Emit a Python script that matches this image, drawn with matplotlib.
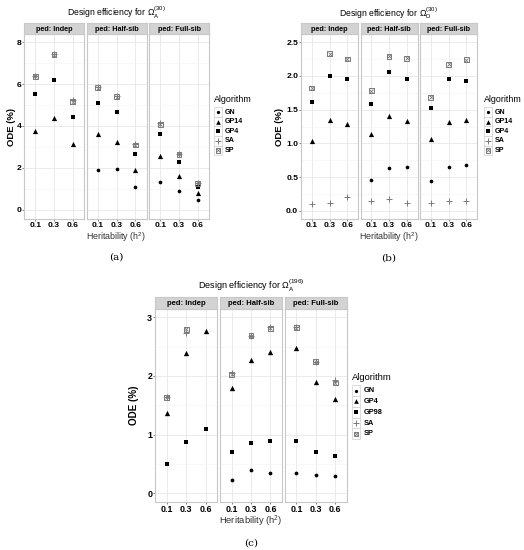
"""Design efficiency (ODE) per pedigree, heritability and algorithm."""
import numpy as np
import matplotlib
matplotlib.use("Agg")
import matplotlib.pyplot as plt
from matplotlib.patches import Rectangle

plt.rcParams["font.family"] = ["Liberation Sans", "DejaVu Sans"]
plt.rcParams["mathtext.fontset"] = "custom"
plt.rcParams["mathtext.rm"] = "Liberation Sans"
plt.rcParams["mathtext.it"] = "Liberation Sans:italic"

nan = np.nan

heritability = ["0.1", "0.3", "0.6"]
peds = ["Indep", "Half-sib", "Full-sib"]

# panel (a): Omega_A^(30); rows = ped, cols = heritability
a_GN = [[nan, nan, nan], [1.88, 1.94, 1.07], [1.34, 0.91, 0.46]]
a_GP14 = [[3.77, 4.38, 3.15], [3.64, 3.22, 1.89], [2.56, 1.61, 0.77]]
a_GP4 = [[5.52, 6.21, 4.43], [5.09, 4.67, 2.68], [3.61, 2.27, 1.06]]
a_SA = [[6.40, 7.42, 5.24], [5.88, 5.43, 3.14], [4.15, 2.66, 1.28]]
a_SP = [[6.37, 7.41, 5.16], [5.84, 5.41, 3.09], [4.09, 2.65, 1.26]]

# panel (b): Omega_D^(30)
b_GN = [[nan, nan, nan], [0.46, 0.63, 0.65], [0.45, 0.65, 0.68]]
b_GP14 = [[1.04, 1.35, 1.28], [1.14, 1.40, 1.33], [1.06, 1.32, 1.34]]
b_GP4 = [[1.61, 2.00, 1.95], [1.58, 2.06, 1.95], [1.52, 1.95, 1.92]]
b_SA = [[0.10, 0.12, 0.20], [0.15, 0.17, 0.11], [0.11, 0.14, 0.15]]
b_SP = [[1.82, 2.33, 2.25], [1.78, 2.29, 2.26], [1.68, 2.17, 2.24]]

# panel (c): Omega_A^(196)
c_GN = [[nan, nan, nan], [0.22, 0.39, 0.35], [0.34, 0.31, 0.29]]
c_GP4 = [[1.36, 2.40, 2.76], [1.79, 2.28, 2.41], [2.48, 1.89, 1.60]]
c_GP98 = [[0.49, 0.87, 1.09], [0.70, 0.86, 0.89], [0.89, 0.71, 0.63]]
c_SA = [[1.64, 2.74, nan], [2.05, 2.69, 2.83], [2.83, 2.23, 1.93]]
c_SP = [[1.64, 2.80, nan], [2.03, 2.69, 2.81], [2.82, 2.24, 1.88]]

W, H = 524, 550
GRAY = "#7a7a7a"
SHAPES = ["circle", "triangle", "square", "plus", "sqx"]


def fx(px):
    return px / W


def fy(py):
    return 1 - py / H


def draw_point(ax, shape, x, y, k=1.0):
    if shape == "circle":
        ax.scatter(x, y, marker="o", s=7 * k, color="black", lw=0, zorder=3)
    elif shape == "triangle":
        ax.scatter(x, y, marker="^", s=14 * k, color="black", lw=0, zorder=3)
    elif shape == "square":
        ax.scatter(x, y, marker="s", s=11 * k, color="black", lw=0, zorder=3)
    elif shape == "plus":
        ax.scatter(x, y, marker="+", s=22 * k, color=GRAY, linewidths=0.7, zorder=4)
    elif shape == "sqx":
        ax.scatter(x, y, marker="s", s=12 * k, facecolor="none", edgecolor=GRAY,
                   linewidths=0.7, zorder=4)
        ax.scatter(x, y, marker="x", s=8 * k, color=GRAY, linewidths=0.6, zorder=4)


def draw_legend(lax, names, x, y, step, scale):
    # lax is an overlay axes in pixel coordinates
    lax.text(x, y, "Algorithm", ha="left", va="center", fontsize=6.4 * scale)
    y0 = y + 13 * scale
    bw = 8.5 * scale
    for i, (name, shape) in enumerate(zip(names, SHAPES)):
        yc = y0 + i * step
        lax.add_patch(Rectangle((x - 0.5, yc - step / 2), bw, step, facecolor="white",
                                edgecolor="#cfcfcf", lw=0.5, zorder=2))
        draw_point(lax, shape, [x - 0.5 + bw / 2], [yc], k=0.8)
        lax.text(x + 11 * scale, yc, name, ha="left", va="center",
                 fontsize=5.1 * scale, fontweight="bold")


def facet_panel(fig, lax, series, names, left, right, top, bottom, ylim, yticks,
                title, title_y, ylabel_x, legend_xy, legend_step, tag, tag_y, scale=1.0):
    gap = 2.5
    width = (right - left - 2 * gap) / 3
    strip_h = 11 * scale
    step = yticks[1] - yticks[0]
    for k, ped in enumerate(peds):
        x0 = left + k * (width + gap)
        ax = fig.add_axes([fx(x0), fy(bottom), width / W, (bottom - top - strip_h) / H])
        ax.set_xticks([1, 2, 3])
        ax.set_xticklabels(heritability, fontsize=6.1 * scale, fontweight="bold")
        ax.set_yticks(yticks)
        ax.set_yticks(np.arange(yticks[0] - step / 2, yticks[-1] + step, step), minor=True)
        ax.set_xlim(0.4, 3.6)
        ax.set_ylim(*ylim)
        ax.grid(True, which="major", color="#e8e8e8", lw=0.6)
        ax.grid(True, which="minor", axis="y", color="#f3f3f3", lw=0.4)
        ax.tick_params(which="minor", length=0)
        ax.set_axisbelow(True)
        for sp in ax.spines.values():
            sp.set_color("#c8c8c8")
            sp.set_linewidth(0.8)
        ax.tick_params(which="major", length=1.5, width=0.5, color="#555555", pad=0.5)
        if k == 0:
            ax.set_yticklabels([("%g" % t) if step >= 1 else ("%.1f" % t) for t in yticks],
                               fontsize=6.1 * scale, fontweight="bold")
        else:
            ax.tick_params(axis="y", which="both", left=False, labelleft=False)
        for vals, shape in zip(series, SHAPES):
            draw_point(ax, shape, [1, 2, 3], vals[k], k=scale)
        # facet strip
        sax = fig.add_axes([fx(x0), fy(top + strip_h), width / W, strip_h / H])
        sax.set_facecolor("#d3d3d3")
        sax.set_xticks([])
        sax.set_yticks([])
        for sp in sax.spines.values():
            sp.set_color("#c8c8c8")
            sp.set_linewidth(0.8)
        sax.text(0.5, 0.45, "ped: " + ped, ha="center", va="center",
                 fontsize=5.2 * scale, fontweight="bold", transform=sax.transAxes)

    mid = (left + right) / 2
    fig.text(fx(mid), fy(title_y), title, ha="center", va="center", fontsize=6.2 * scale)
    fig.text(fx(mid), fy(bottom + 11 * scale), r"Heritability (h$^2$)", ha="center",
             va="top", fontsize=6.4 * scale, color="#333333")
    fig.text(fx(ylabel_x), fy((top + strip_h + bottom) / 2), "ODE (%)", rotation=90,
             ha="center", va="center", fontsize=6.8 * scale, fontweight="bold")
    fig.text(fx(mid), fy(tag_y), tag, ha="center", va="center", fontsize=7.5,
             family="DejaVu Serif")
    draw_legend(lax, names, legend_xy[0], legend_xy[1], legend_step, scale)


fig = plt.figure(figsize=(W / 100, H / 100), dpi=100)
lax = fig.add_axes([0, 0, 1, 1], zorder=5)
lax.set_xlim(0, W)
lax.set_ylim(H, 0)
lax.axis("off")

facet_panel(fig, lax, [a_GN, a_GP14, a_GP4, a_SA, a_SP], ["GN", "GP14", "GP4", "SA", "SP"],
            left=24, right=209, top=23, bottom=219, ylim=(-0.45, 8.4),
            yticks=[0, 2, 4, 6, 8],
            title=r"Design efficiency for $\Omega_{\mathrm{A}}^{(30)}$", title_y=13,
            ylabel_x=11, legend_xy=(214, 99), legend_step=9.6, tag="(a)", tag_y=257)

facet_panel(fig, lax, [b_GN, b_GP14, b_GP4, b_SA, b_SP], ["GN", "GP14", "GP4", "SA", "SP"],
            left=301, right=477, top=23, bottom=219, ylim=(-0.12, 2.62),
            yticks=[0.0, 0.5, 1.0, 1.5, 2.0, 2.5],
            title=r"Design efficiency for $\Omega_{\mathrm{D}}^{(30)}$", title_y=13,
            ylabel_x=280, legend_xy=(484, 99), legend_step=9.6, tag="(b)", tag_y=258)

facet_panel(fig, lax, [c_GN, c_GP4, c_GP98, c_SA, c_SP], ["GN", "GP4", "GP98", "SA", "SP"],
            left=155, right=347, top=297, bottom=502, ylim=(-0.15, 3.15),
            yticks=[0, 1, 2, 3],
            title=r"Design efficiency for $\Omega_{\mathrm{A}}^{(196)}$", title_y=286,
            ylabel_x=134, legend_xy=(352, 377), legend_step=10.8, tag="(c)", tag_y=543,
            scale=1.05)

fig.savefig("out.png", dpi=100)
